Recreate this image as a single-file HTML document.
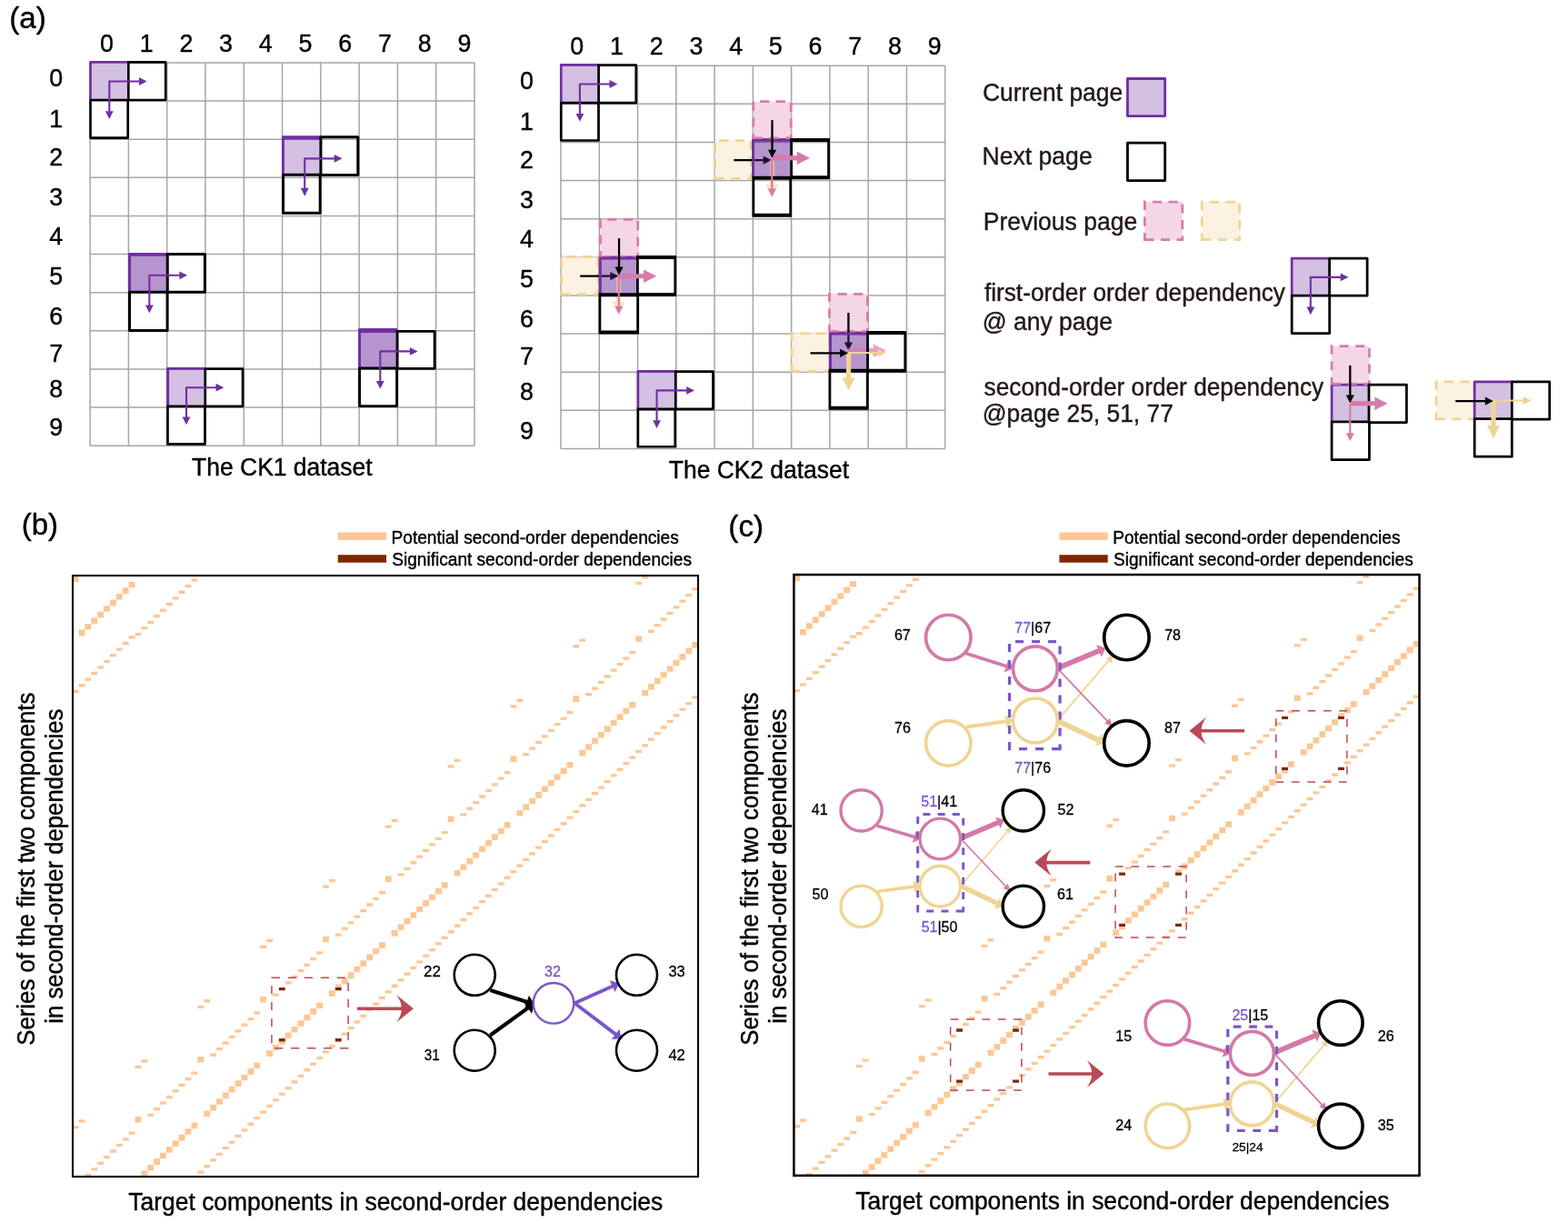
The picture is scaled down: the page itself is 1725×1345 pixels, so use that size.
<!DOCTYPE html>
<html lang="en">
<head>
<meta charset="utf-8">
<title>First-order and second-order dependencies in the CK1 and CK2 datasets</title>
<style>
html,body{margin:0;padding:0;background:#fff;}
body{width:1725px;height:1345px;overflow:hidden;}
svg{display:block;font-family:'Liberation Sans', sans-serif;}
</style>
</head>
<body>
<svg width="1725" height="1345" viewBox="0 0 1725 1345">
<rect width="1725" height="1345" fill="#fff"/>
<g id="panel-a">
<text transform="translate(10.19 30.5) scale(1.004 1)" font-size="33" text-anchor="start" fill="#000" stroke="#000" stroke-width="0.4" stroke-linejoin="round">(a)</text>
<path d="M99.1 69V490.2M141.39 69V490.2M183.68 69V490.2M225.97 69V490.2M268.26 69V490.2M310.55 69V490.2M352.84 69V490.2M395.13 69V490.2M437.42 69V490.2M479.71 69V490.2M522 69V490.2M99.1 69H522M99.1 111.12H522M99.1 153.24H522M99.1 195.36H522M99.1 237.48H522M99.1 279.6H522M99.1 321.72H522M99.1 363.84H522M99.1 405.96H522M99.1 448.08H522M99.1 490.2H522" fill="none" stroke="#a6a6a6" stroke-width="1.5"/>
<text transform="translate(117.4 56.8) scale(0.957 1)" font-size="28" text-anchor="middle" fill="#000" stroke="#000" stroke-width="0.4" stroke-linejoin="round">0</text>
<text transform="translate(161.12 56.8) scale(0.957 1)" font-size="28" text-anchor="middle" fill="#000" stroke="#000" stroke-width="0.4" stroke-linejoin="round">1</text>
<text transform="translate(204.84 56.8) scale(0.957 1)" font-size="28" text-anchor="middle" fill="#000" stroke="#000" stroke-width="0.4" stroke-linejoin="round">2</text>
<text transform="translate(248.56 56.8) scale(0.957 1)" font-size="28" text-anchor="middle" fill="#000" stroke="#000" stroke-width="0.4" stroke-linejoin="round">3</text>
<text transform="translate(292.28 56.8) scale(0.957 1)" font-size="28" text-anchor="middle" fill="#000" stroke="#000" stroke-width="0.4" stroke-linejoin="round">4</text>
<text transform="translate(336 56.8) scale(0.957 1)" font-size="28" text-anchor="middle" fill="#000" stroke="#000" stroke-width="0.4" stroke-linejoin="round">5</text>
<text transform="translate(379.72 56.8) scale(0.957 1)" font-size="28" text-anchor="middle" fill="#000" stroke="#000" stroke-width="0.4" stroke-linejoin="round">6</text>
<text transform="translate(423.44 56.8) scale(0.957 1)" font-size="28" text-anchor="middle" fill="#000" stroke="#000" stroke-width="0.4" stroke-linejoin="round">7</text>
<text transform="translate(467.16 56.8) scale(0.957 1)" font-size="28" text-anchor="middle" fill="#000" stroke="#000" stroke-width="0.4" stroke-linejoin="round">8</text>
<text transform="translate(510.88 56.8) scale(0.957 1)" font-size="28" text-anchor="middle" fill="#000" stroke="#000" stroke-width="0.4" stroke-linejoin="round">9</text>
<text transform="translate(61.6 95.1) scale(0.957 1)" font-size="28" text-anchor="middle" fill="#000" stroke="#000" stroke-width="0.4" stroke-linejoin="round">0</text>
<text transform="translate(61.6 140) scale(0.957 1)" font-size="28" text-anchor="middle" fill="#000" stroke="#000" stroke-width="0.4" stroke-linejoin="round">1</text>
<text transform="translate(61.6 182) scale(0.957 1)" font-size="28" text-anchor="middle" fill="#000" stroke="#000" stroke-width="0.4" stroke-linejoin="round">2</text>
<text transform="translate(61.6 226.3) scale(0.957 1)" font-size="28" text-anchor="middle" fill="#000" stroke="#000" stroke-width="0.4" stroke-linejoin="round">3</text>
<text transform="translate(61.6 269.4) scale(0.957 1)" font-size="28" text-anchor="middle" fill="#000" stroke="#000" stroke-width="0.4" stroke-linejoin="round">4</text>
<text transform="translate(61.6 312.7) scale(0.957 1)" font-size="28" text-anchor="middle" fill="#000" stroke="#000" stroke-width="0.4" stroke-linejoin="round">5</text>
<text transform="translate(61.6 357.3) scale(0.957 1)" font-size="28" text-anchor="middle" fill="#000" stroke="#000" stroke-width="0.4" stroke-linejoin="round">6</text>
<text transform="translate(61.6 397.8) scale(0.957 1)" font-size="28" text-anchor="middle" fill="#000" stroke="#000" stroke-width="0.4" stroke-linejoin="round">7</text>
<text transform="translate(61.6 436.6) scale(0.957 1)" font-size="28" text-anchor="middle" fill="#000" stroke="#000" stroke-width="0.4" stroke-linejoin="round">8</text>
<text transform="translate(61.6 479.4) scale(0.957 1)" font-size="28" text-anchor="middle" fill="#000" stroke="#000" stroke-width="0.4" stroke-linejoin="round">9</text>
<text transform="translate(211.1 523.3) scale(1 1.035)" font-size="26.47" text-anchor="start" fill="#000" stroke="#000" stroke-width="0.4" stroke-linejoin="round">The CK1 dataset</text>
<rect x="98.7" y="67.4" width="42.6" height="42.6" fill="#7030a0" fill-opacity="0.3"/><path d="M98.2 110V68.1Q98.2 66.9 99.4 66.9H141.3V69.5H100.8V110z" fill="#7030a0"/><rect x="141.3" y="68.4" width="40.9" height="41.6" fill="none" stroke="#000" stroke-width="2.6" stroke-linejoin="round"/><rect x="99.5" y="110" width="41.2" height="41.6" fill="none" stroke="#000" stroke-width="2.6" stroke-linejoin="round"/><path d="M120.3 122.7V89.5H153.4" fill="none" stroke="#7030a0" stroke-width="2.1" stroke-linejoin="round"/><polygon points="161.7,89.5 152.9,85.1 152.9,93.9" fill="#7030a0"/><polygon points="120.3,131 115.9,122.2 124.7,122.2" fill="#7030a0"/>
<rect x="310.5" y="149.7" width="42.4" height="42.5" fill="#7030a0" fill-opacity="0.3"/><path d="M310 192.2V150.4Q310 149.2 311.2 149.2H352.9V153.6H312.9V192.2z" fill="#7030a0"/><rect x="352.9" y="150.7" width="40.9" height="41.9" fill="none" stroke="#000" stroke-width="3" stroke-linejoin="round"/><rect x="311.5" y="192.2" width="40.7" height="42" fill="none" stroke="#000" stroke-width="3" stroke-linejoin="round"/><path d="M335.2 207.35V174.35H368.2" fill="none" stroke="#7030a0" stroke-width="2.1" stroke-linejoin="round"/><polygon points="376.5,174.35 367.7,169.95 367.7,178.75" fill="#7030a0"/><polygon points="335.2,215.65 330.8,206.85 339.6,206.85" fill="#7030a0"/>
<rect x="141.5" y="278.4" width="42.75" height="42.9" fill="#7030a0" fill-opacity="0.51"/><path d="M141 321.3V279.1Q141 277.9 142.2 277.9H184.25V281.8H144.05V321.3z" fill="#7030a0"/><rect x="184.25" y="279.4" width="41.15" height="41.8" fill="none" stroke="#000" stroke-width="3" stroke-linejoin="round"/><rect x="142.5" y="321.3" width="41.6" height="42.1" fill="none" stroke="#000" stroke-width="3" stroke-linejoin="round"/><path d="M164.35 335.9V302.8H197.8" fill="none" stroke="#7030a0" stroke-width="2.1" stroke-linejoin="round"/><polygon points="206.1,302.8 197.3,298.4 197.3,307.2" fill="#7030a0"/><polygon points="164.35,344.2 159.95,335.4 168.75,335.4" fill="#7030a0"/>
<rect x="394.57" y="361.54" width="42.48" height="43.51" fill="#7030a0" fill-opacity="0.51"/><path d="M394.07 405.05V362.24Q394.07 361.04 395.27 361.04H437.05V365.94H397.02V405.05z" fill="#7030a0"/><rect x="437.05" y="364.35" width="41.1" height="41" fill="none" stroke="#000" stroke-width="2.9" stroke-linejoin="round"/><rect x="395.52" y="405.05" width="41.1" height="41.6" fill="none" stroke="#000" stroke-width="2.9" stroke-linejoin="round"/><path d="M418.3 419.4V386.4H451.4" fill="none" stroke="#7030a0" stroke-width="2.1" stroke-linejoin="round"/><polygon points="459.7,386.4 450.9,382 450.9,390.8" fill="#7030a0"/><polygon points="418.3,427.7 413.9,418.9 422.7,418.9" fill="#7030a0"/>
<rect x="183.6" y="404.57" width="42.15" height="42.38" fill="#7030a0" fill-opacity="0.3"/><path d="M183.1 446.95V405.27Q183.1 404.07 184.3 404.07H225.75V406.87H186.1V446.95z" fill="#7030a0"/><rect x="225.75" y="405.65" width="41.3" height="41.2" fill="none" stroke="#000" stroke-width="2.7" stroke-linejoin="round"/><rect x="184.45" y="446.95" width="41" height="41.5" fill="none" stroke="#000" stroke-width="2.7" stroke-linejoin="round"/><path d="M205 459V426.2H238" fill="none" stroke="#7030a0" stroke-width="2.1" stroke-linejoin="round"/><polygon points="246.3,426.2 237.5,421.8 237.5,430.6" fill="#7030a0"/><polygon points="205,467.3 200.6,458.5 209.4,458.5" fill="#7030a0"/>
<path d="M617 72.2V493.4M659.27 72.2V493.4M701.54 72.2V493.4M743.81 72.2V493.4M786.08 72.2V493.4M828.35 72.2V493.4M870.62 72.2V493.4M912.89 72.2V493.4M955.16 72.2V493.4M997.43 72.2V493.4M1039.7 72.2V493.4M617 72.2H1039.7M617 114.32H1039.7M617 156.44H1039.7M617 198.56H1039.7M617 240.68H1039.7M617 282.8H1039.7M617 324.92H1039.7M617 367.04H1039.7M617 409.16H1039.7M617 451.28H1039.7M617 493.4H1039.7" fill="none" stroke="#a6a6a6" stroke-width="1.5"/>
<text transform="translate(634.65 60) scale(0.957 1)" font-size="28" text-anchor="middle" fill="#000" stroke="#000" stroke-width="0.4" stroke-linejoin="round">0</text>
<text transform="translate(678.38 60) scale(0.957 1)" font-size="28" text-anchor="middle" fill="#000" stroke="#000" stroke-width="0.4" stroke-linejoin="round">1</text>
<text transform="translate(722.11 60) scale(0.957 1)" font-size="28" text-anchor="middle" fill="#000" stroke="#000" stroke-width="0.4" stroke-linejoin="round">2</text>
<text transform="translate(765.84 60) scale(0.957 1)" font-size="28" text-anchor="middle" fill="#000" stroke="#000" stroke-width="0.4" stroke-linejoin="round">3</text>
<text transform="translate(809.57 60) scale(0.957 1)" font-size="28" text-anchor="middle" fill="#000" stroke="#000" stroke-width="0.4" stroke-linejoin="round">4</text>
<text transform="translate(853.3 60) scale(0.957 1)" font-size="28" text-anchor="middle" fill="#000" stroke="#000" stroke-width="0.4" stroke-linejoin="round">5</text>
<text transform="translate(897.03 60) scale(0.957 1)" font-size="28" text-anchor="middle" fill="#000" stroke="#000" stroke-width="0.4" stroke-linejoin="round">6</text>
<text transform="translate(940.76 60) scale(0.957 1)" font-size="28" text-anchor="middle" fill="#000" stroke="#000" stroke-width="0.4" stroke-linejoin="round">7</text>
<text transform="translate(984.49 60) scale(0.957 1)" font-size="28" text-anchor="middle" fill="#000" stroke="#000" stroke-width="0.4" stroke-linejoin="round">8</text>
<text transform="translate(1028.22 60) scale(0.957 1)" font-size="28" text-anchor="middle" fill="#000" stroke="#000" stroke-width="0.4" stroke-linejoin="round">9</text>
<text transform="translate(579.5 98) scale(0.957 1)" font-size="28" text-anchor="middle" fill="#000" stroke="#000" stroke-width="0.4" stroke-linejoin="round">0</text>
<text transform="translate(579.5 143.1) scale(0.957 1)" font-size="28" text-anchor="middle" fill="#000" stroke="#000" stroke-width="0.4" stroke-linejoin="round">1</text>
<text transform="translate(579.5 185) scale(0.957 1)" font-size="28" text-anchor="middle" fill="#000" stroke="#000" stroke-width="0.4" stroke-linejoin="round">2</text>
<text transform="translate(579.5 229.2) scale(0.957 1)" font-size="28" text-anchor="middle" fill="#000" stroke="#000" stroke-width="0.4" stroke-linejoin="round">3</text>
<text transform="translate(579.5 272.3) scale(0.957 1)" font-size="28" text-anchor="middle" fill="#000" stroke="#000" stroke-width="0.4" stroke-linejoin="round">4</text>
<text transform="translate(579.5 315.7) scale(0.957 1)" font-size="28" text-anchor="middle" fill="#000" stroke="#000" stroke-width="0.4" stroke-linejoin="round">5</text>
<text transform="translate(579.5 360.3) scale(0.957 1)" font-size="28" text-anchor="middle" fill="#000" stroke="#000" stroke-width="0.4" stroke-linejoin="round">6</text>
<text transform="translate(579.5 400.5) scale(0.957 1)" font-size="28" text-anchor="middle" fill="#000" stroke="#000" stroke-width="0.4" stroke-linejoin="round">7</text>
<text transform="translate(579.5 440) scale(0.957 1)" font-size="28" text-anchor="middle" fill="#000" stroke="#000" stroke-width="0.4" stroke-linejoin="round">8</text>
<text transform="translate(579.5 482.5) scale(0.957 1)" font-size="28" text-anchor="middle" fill="#000" stroke="#000" stroke-width="0.4" stroke-linejoin="round">9</text>
<text transform="translate(735.81 526.3) scale(1 1.035)" font-size="26.43" text-anchor="start" fill="#000" stroke="#000" stroke-width="0.4" stroke-linejoin="round">The CK2 dataset</text>
<rect x="616.4" y="70.56" width="42.15" height="42.49" fill="#7030a0" fill-opacity="0.3"/><path d="M615.9 113.05V71.26Q615.9 70.06 617.1 70.06H658.55V72.76H618.6V113.05z" fill="#7030a0"/><rect x="658.55" y="71.55" width="41.2" height="41.5" fill="none" stroke="#000" stroke-width="2.7" stroke-linejoin="round"/><rect x="617.25" y="113.05" width="41.2" height="41.45" fill="none" stroke="#000" stroke-width="2.7" stroke-linejoin="round"/><path d="M637.9 125.55V92.5H671" fill="none" stroke="#7030a0" stroke-width="2.1" stroke-linejoin="round"/><polygon points="679.3,92.5 670.5,88.1 670.5,96.9" fill="#7030a0"/><polygon points="637.9,133.85 633.5,125.05 642.3,125.05" fill="#7030a0"/>
<rect x="701" y="407.5" width="42.25" height="42.35" fill="#7030a0" fill-opacity="0.3"/><path d="M700.5 449.85V408.2Q700.5 407 701.7 407H743.25V409.7H703.2V449.85z" fill="#7030a0"/><rect x="743.25" y="408.55" width="41.25" height="41.3" fill="none" stroke="#000" stroke-width="2.7" stroke-linejoin="round"/><rect x="701.85" y="449.85" width="40.9" height="41.4" fill="none" stroke="#000" stroke-width="2.7" stroke-linejoin="round"/><path d="M722.55 462.7V429.4H755.7" fill="none" stroke="#7030a0" stroke-width="2.1" stroke-linejoin="round"/><polygon points="764,429.4 755.2,425 755.2,433.8" fill="#7030a0"/><polygon points="722.55,471 718.15,462.2 726.95,462.2" fill="#7030a0"/>
<path d="M786.65 196.25H826.05V154.65H786.65z" fill="#fbf2e1"/><path d="M786.65 196.25H826.05V154.65H786.65z" fill="none" stroke="#f0d492" stroke-width="2.7" stroke-dasharray="10.2 7.4" stroke-dashoffset="0"/><path d="M828.75 151.95H870.15V111.65H828.75z" fill="#f4d6e6"/><rect x="827.7" y="152.4" width="42.9" height="42.7" fill="#7030a0" fill-opacity="0.3"/><path d="M827.2 195.1V153.1Q827.2 151.9 828.4 151.9H870.6V154.7H830V195.1z" fill="#7030a0"/><path d="M828.75 151.95H870.15V111.65H828.75z" fill="none" stroke="#d77ba8" stroke-width="2.7" stroke-dasharray="10.2 7.4" stroke-dashoffset="0"/><line x1="807.3" y1="176.05" x2="840.2" y2="176.05" stroke="#000" stroke-width="2.3"/><polygon points="848.6,176.05 839.7,180.65 839.7,171.45" fill="#000"/><rect x="827.7" y="153.5" width="42.9" height="41.6" fill="#7030a0" fill-opacity="0.3"/><path d="M827.2 195.1V154.2Q827.2 153 828.4 153H870.6V155.8H830V195.1z" fill="#7030a0"/><g opacity="0.62"><line x1="849.2" y1="174.5" x2="881" y2="174.5" stroke="#f0d492" stroke-width="2"/><polygon points="889.5,174.5 880.5,179 880.5,170" fill="#f0d492"/><line x1="849.6" y1="175.8" x2="849.6" y2="203.6" stroke="#f0d492" stroke-width="5.2"/><polygon points="849.6,217 842.5,203.1 856.7,203.1" fill="#f0d492"/></g><path fill-rule="evenodd" fill="#000" d="M870 151.9H912.15Q912.95 151.9 912.95 152.7V196.4Q912.95 197.2 912.15 197.2H870Q869.2 197.2 869.2 196.4V152.7Q869.2 151.9 870 151.9zM872 155.9V193.2H910.15V155.9z"/><path fill-rule="evenodd" fill="#000" d="M828.2 193.7H870.3Q871.1 193.7 871.1 194.5V238Q871.1 238.8 870.3 238.8H828.2Q827.4 238.8 827.4 238V194.5Q827.4 193.7 828.2 193.7zM830.2 197.7V234.8H868.3V197.7z"/><line x1="849.2" y1="173.8" x2="877.2" y2="173.8" stroke="#d77ba8" stroke-width="5.2"/><polygon points="891,173.8 876.7,181 876.7,166.6" fill="#d77ba8"/><line x1="849.2" y1="175.8" x2="849.2" y2="208" stroke="#d77ba8" stroke-width="2.2"/><polygon points="849.2,216.5 844.7,207.5 853.7,207.5" fill="#d77ba8"/><line x1="849.5" y1="132.1" x2="849.5" y2="165.2" stroke="#000" stroke-width="2.3"/><polygon points="849.5,173.6 844.9,164.7 854.1,164.7" fill="#000"/>
<path d="M617.75 323.65H657.75V282.45H617.75z" fill="#fbf2e1"/><path d="M617.75 323.65H657.75V282.45H617.75z" fill="none" stroke="#f0d492" stroke-width="2.7" stroke-dasharray="10.2 7.4" stroke-dashoffset="0"/><path d="M660.45 282.4H701.75V241.35H660.45z" fill="#f4d6e6"/><rect x="659.25" y="282" width="42.15" height="41.7" fill="#7030a0" fill-opacity="0.3"/><path d="M658.75 323.7V282.7Q658.75 281.5 659.95 281.5H701.4V284.3H661.55V323.7z" fill="#7030a0"/><path d="M660.45 282.4H701.75V241.35H660.45z" fill="none" stroke="#d77ba8" stroke-width="2.7" stroke-dasharray="10.2 7.4" stroke-dashoffset="0"/><line x1="638.2" y1="303.6" x2="671.9" y2="303.6" stroke="#000" stroke-width="2.3"/><polygon points="680.3,303.6 671.4,308.2 671.4,299" fill="#000"/><rect x="659.25" y="283.1" width="42.15" height="40.6" fill="#7030a0" fill-opacity="0.3"/><path d="M658.75 323.7V283.8Q658.75 282.6 659.95 282.6H701.4V285.4H661.55V323.7z" fill="#7030a0"/><g opacity="0.62"><line x1="680.3" y1="304.3" x2="712" y2="304.3" stroke="#f0d492" stroke-width="2"/><polygon points="720.5,304.3 711.5,308.8 711.5,299.8" fill="#f0d492"/><line x1="680.6" y1="305" x2="680.6" y2="332.1" stroke="#f0d492" stroke-width="5.2"/><polygon points="680.6,345.5 673.5,331.6 687.7,331.6" fill="#f0d492"/></g><path fill-rule="evenodd" fill="#000" d="M700.8 281.1H743.4Q744.2 281.1 744.2 281.9V325.1Q744.2 325.9 743.4 325.9H700.8Q700 325.9 700 325.1V281.9Q700 281.1 700.8 281.1zM702.8 285.1V321.9H741.4V285.1z"/><path fill-rule="evenodd" fill="#000" d="M659.3 322.3H702.3Q703.1 322.3 703.1 323.1V366.6Q703.1 367.4 702.3 367.4H659.3Q658.5 367.4 658.5 366.6V323.1Q658.5 322.3 659.3 322.3zM661.3 326.3V363.4H700.3V326.3z"/><line x1="680.3" y1="303.8" x2="708.5" y2="303.8" stroke="#d77ba8" stroke-width="5.2"/><polygon points="722.3,303.8 708,311 708,296.6" fill="#d77ba8"/><line x1="680.8" y1="305" x2="680.8" y2="337.3" stroke="#d77ba8" stroke-width="2.2"/><polygon points="680.8,345.8 676.3,336.8 685.3,336.8" fill="#d77ba8"/><line x1="681.05" y1="262.1" x2="681.05" y2="294.1" stroke="#000" stroke-width="2.3"/><polygon points="681.05,302.5 676.45,293.6 685.65,293.6" fill="#000"/>
<path d="M871.15 408.45H912.75V366.55H871.15z" fill="#fbf2e1"/><path d="M871.15 408.45H912.75V366.55H871.15z" fill="none" stroke="#f0d492" stroke-width="2.7" stroke-dasharray="10.2 7.4" stroke-dashoffset="0"/><path d="M912.45 364.45H954.35V323.35H912.45z" fill="#f4d6e6"/><rect x="912.4" y="365.1" width="42.1" height="42" fill="#7030a0" fill-opacity="0.3"/><path d="M911.9 407.1V365.8Q911.9 364.6 913.1 364.6H954.5V367.4H914.7V407.1z" fill="#7030a0"/><path d="M912.45 364.45H954.35V323.35H912.45z" fill="none" stroke="#d77ba8" stroke-width="2.7" stroke-dasharray="10.2 7.4" stroke-dashoffset="0"/><line x1="933.4" y1="344" x2="933.4" y2="376.9" stroke="#000" stroke-width="2.3"/><polygon points="933.4,385.3 928.8,376.4 938,376.4" fill="#000"/><rect x="912.4" y="366.2" width="42.1" height="40.9" fill="#7030a0" fill-opacity="0.3"/><path d="M911.9 407.1V366.9Q911.9 365.7 913.1 365.7H954.5V368.5H914.7V407.1z" fill="#7030a0"/><g opacity="0.7"><line x1="933" y1="385.6" x2="961.1" y2="385.6" stroke="#d77ba8" stroke-width="5.2"/><polygon points="974.9,385.6 960.6,392.8 960.6,378.4" fill="#d77ba8"/><line x1="933.4" y1="388" x2="933.4" y2="418.5" stroke="#d77ba8" stroke-width="2.2"/><polygon points="933.4,427 928.9,418 937.9,418" fill="#d77ba8"/></g><path fill-rule="evenodd" fill="#000" d="M953.9 364.1H996.4Q997.2 364.1 997.2 364.9V409Q997.2 409.8 996.4 409.8H953.9Q953.1 409.8 953.1 409V364.9Q953.1 364.1 953.9 364.1zM955.9 368.1V405.8H994.4V368.1z"/><path fill-rule="evenodd" fill="#000" d="M912.3 405.7H954.9Q955.7 405.7 955.7 406.5V449.9Q955.7 450.7 954.9 450.7H912.3Q911.5 450.7 911.5 449.9V406.5Q911.5 405.7 912.3 405.7zM914.3 409.7V446.7H952.9V409.7z"/><line x1="933" y1="388.1" x2="966.4" y2="388.1" stroke="#f0d492" stroke-width="2"/><polygon points="974.9,388.1 965.9,392.6 965.9,383.6" fill="#f0d492"/><line x1="933.6" y1="388.1" x2="933.6" y2="415.9" stroke="#f0d492" stroke-width="5.2"/><polygon points="933.6,429.3 926.5,415.4 940.7,415.4" fill="#f0d492"/><line x1="891.4" y1="388.3" x2="924.6" y2="388.3" stroke="#000" stroke-width="2.3"/><polygon points="933,388.3 924.1,392.9 924.1,383.7" fill="#000"/>
<text transform="translate(1080.88 110.8) scale(1 1.035)" font-size="26.46" text-anchor="start" fill="#231815" stroke="#231815" stroke-width="0.4" stroke-linejoin="round">Current page</text>
<text transform="translate(1080.51 181.3) scale(1 1.035)" font-size="26.6" text-anchor="start" fill="#231815" stroke="#231815" stroke-width="0.4" stroke-linejoin="round">Next page</text>
<text transform="translate(1081.71 253) scale(1 1.035)" font-size="26.52" text-anchor="start" fill="#231815" stroke="#231815" stroke-width="0.4" stroke-linejoin="round">Previous page</text>
<text transform="translate(1082.88 330.5) scale(1 1.035)" font-size="26.25" text-anchor="start" fill="#231815" stroke="#231815" stroke-width="0.4" stroke-linejoin="round">first-order order dependency</text>
<text transform="translate(1080.8 363.1) scale(1 1.035)" font-size="26.47" text-anchor="start" fill="#231815" stroke="#231815" stroke-width="0.4" stroke-linejoin="round">@ any page</text>
<text transform="translate(1082.55 434.6) scale(1 1.035)" font-size="26.27" text-anchor="start" fill="#231815" stroke="#231815" stroke-width="0.4" stroke-linejoin="round">second-order order dependency</text>
<text transform="translate(1080.81 463.9) scale(1 1.035)" font-size="26.38" text-anchor="start" fill="#231815" stroke="#231815" stroke-width="0.4" stroke-linejoin="round">@page 25, 51, 77</text>
<rect x="1240.45" y="86.5" width="41.22" height="41.1" fill="#d4c0e3" stroke="#7030a0" stroke-width="2.8" stroke-linejoin="round"/>
<rect x="1240.45" y="157.1" width="41.22" height="41.5" fill="#fff" stroke="#000" stroke-width="2.8" stroke-linejoin="round"/>
<path d="M1259.35 263.52H1300.83V222.07H1259.35z" fill="#f4d6e6"/><path d="M1259.35 263.52H1300.83V222.07H1259.35z" fill="none" stroke="#d77ba8" stroke-width="2.75" stroke-dasharray="10.2 7.4" stroke-dashoffset="0"/>
<path d="M1322.28 263.52H1363.69V222.07H1322.28z" fill="#fbf2e1"/><path d="M1322.28 263.52H1363.69V222.07H1322.28z" fill="none" stroke="#f0d492" stroke-width="2.75" stroke-dasharray="10.2 7.4" stroke-dashoffset="0"/>
<rect x="1420.3" y="283.3" width="42.28" height="41.77" fill="#7030a0" fill-opacity="0.3"/><path d="M1419.8 325.07V284Q1419.8 282.8 1421 282.8H1462.58V285.55H1422.55V325.07z" fill="#7030a0"/><rect x="1462.58" y="284.18" width="41.55" height="40.95" fill="none" stroke="#000" stroke-width="2.75" stroke-linejoin="round"/><rect x="1421.17" y="325.07" width="41.5" height="41.55" fill="none" stroke="#000" stroke-width="2.75" stroke-linejoin="round"/><path d="M1441.8 338V304.85H1475.2" fill="none" stroke="#7030a0" stroke-width="2.1" stroke-linejoin="round"/><polygon points="1483.5,304.85 1474.7,300.45 1474.7,309.25" fill="#7030a0"/><polygon points="1441.8,346.3 1437.4,337.5 1446.2,337.5" fill="#7030a0"/>
<path d="M1465.05 422.15H1506.45V380.65H1465.05z" fill="#f4d6e6"/><rect x="1464.2" y="422.2" width="41.77" height="41.68" fill="#7030a0" fill-opacity="0.3"/><path d="M1463.7 463.88V422.9Q1463.7 421.7 1464.9 421.7H1505.97V424.45H1466.45V463.88z" fill="#7030a0"/><path d="M1465.05 422.15H1506.45V380.65H1465.05z" fill="none" stroke="#d77ba8" stroke-width="2.7" stroke-dasharray="10.2 7.4" stroke-dashoffset="0"/><rect x="1505.97" y="423.07" width="41.45" height="41.45" fill="none" stroke="#000" stroke-width="2.75" stroke-linejoin="round"/><rect x="1465.08" y="463.88" width="41.35" height="41.75" fill="none" stroke="#000" stroke-width="2.75" stroke-linejoin="round"/><line x1="1485.7" y1="443.7" x2="1512.8" y2="443.7" stroke="#d77ba8" stroke-width="5.2"/><polygon points="1526.6,443.7 1512.3,450.9 1512.3,436.5" fill="#d77ba8"/><line x1="1485.3" y1="444.3" x2="1485.3" y2="476.8" stroke="#d77ba8" stroke-width="2.2"/><polygon points="1485.3,485.3 1480.8,476.3 1489.8,476.3" fill="#d77ba8"/><line x1="1485.3" y1="401.9" x2="1485.3" y2="434.9" stroke="#000" stroke-width="2.3"/><polygon points="1485.3,443.3 1480.7,434.4 1489.9,434.4" fill="#000"/>
<path d="M1579.95 460.85H1621.85V419.85H1579.95z" fill="#fbf2e1"/><path d="M1579.95 460.85H1621.85V419.85H1579.95z" fill="none" stroke="#f0d492" stroke-width="2.7" stroke-dasharray="10.2 7.4" stroke-dashoffset="0"/><rect x="1621.3" y="419" width="41.98" height="41.68" fill="#7030a0" fill-opacity="0.3"/><path d="M1620.8 460.68V419.7Q1620.8 418.5 1622 418.5H1663.28V421.25H1623.55V460.68z" fill="#7030a0"/><rect x="1663.28" y="419.88" width="41.45" height="41.25" fill="none" stroke="#000" stroke-width="2.75" stroke-linejoin="round"/><rect x="1622.17" y="460.68" width="41.15" height="41.55" fill="none" stroke="#000" stroke-width="2.75" stroke-linejoin="round"/><line x1="1643" y1="440.5" x2="1676" y2="440.5" stroke="#f0d492" stroke-width="2"/><polygon points="1684.5,440.5 1675.5,445 1675.5,436" fill="#f0d492"/><line x1="1643" y1="440.5" x2="1643" y2="468.5" stroke="#f0d492" stroke-width="5.2"/><polygon points="1643,481.9 1635.9,468 1650.1,468" fill="#f0d492"/><line x1="1601.2" y1="441.1" x2="1634.3" y2="441.1" stroke="#000" stroke-width="2.3"/><polygon points="1642.7,441.1 1633.8,445.7 1633.8,436.5" fill="#000"/>
</g>
<g id="panel-b">
<text transform="translate(23.68 588) scale(0.998 1)" font-size="33" text-anchor="start" fill="#000" stroke="#000" stroke-width="0.4" stroke-linejoin="round">(b)</text>
<rect x="371.7" y="585.4" width="53.3" height="8.5" fill="#fcc794"/><rect x="371.7" y="610.2" width="53.3" height="8.5" fill="#7f2704"/><text transform="translate(430.58 598.1) scale(1 1.035)" font-size="19.1" text-anchor="start" fill="#000" stroke="#000" stroke-width="0.4" stroke-linejoin="round">Potential second-order dependencies</text><text transform="translate(431.3 621.6) scale(1 1.035)" font-size="19.08" text-anchor="start" fill="#000" stroke="#000" stroke-width="0.4" stroke-linejoin="round">Significant second-order dependencies</text>
<path d="M93.43 1290.79H100.31V1294.1H93.43zM155.38 1287.49H162.27V1294.1H155.38zM217.34 1287.49H224.22V1290.79H217.34zM100.31 1284.18H107.2V1287.49H100.31zM162.27 1280.88H169.15V1287.49H162.27zM224.22 1280.88H231.11V1284.18H224.22zM107.2 1277.57H114.08V1280.88H107.2zM169.15 1274.27H176.04V1280.88H169.15zM231.11 1274.27H237.99V1277.57H231.11zM114.08 1270.96H120.96V1274.27H114.08zM176.04 1267.66H182.92V1274.27H176.04zM237.99 1267.66H244.88V1270.96H237.99zM120.96 1264.36H127.85V1267.66H120.96zM182.92 1261.05H189.8V1267.66H182.92zM244.88 1261.05H251.76V1264.36H244.88zM127.85 1257.74H134.73V1261.05H127.85zM189.8 1254.44H196.69V1261.05H189.8zM251.76 1254.44H258.64V1257.74H251.76zM134.73 1251.13H141.62V1254.44H134.73zM196.69 1247.83H203.57V1254.44H196.69zM258.64 1247.83H265.53V1251.13H258.64zM141.62 1244.52H148.5V1247.83H141.62zM203.57 1241.22H210.46V1247.83H203.57zM265.53 1241.22H272.41V1244.52H265.53zM79.66 1237.91H86.54V1241.22H79.66zM210.46 1234.61H217.34V1241.22H210.46zM272.41 1234.61H279.3V1237.91H272.41zM86.54 1231.3H93.43V1234.61H86.54zM148.5 1228H155.38V1234.61H148.5zM279.3 1228H286.18V1231.3H279.3zM162.27 1224.69H169.15V1228H162.27zM224.22 1221.39H231.11V1228H224.22zM286.18 1221.39H293.06V1224.69H286.18zM169.15 1218.08H176.04V1221.39H169.15zM231.11 1214.78H237.99V1221.39H231.11zM293.06 1214.78H299.95V1218.08H293.06zM176.04 1211.47H182.92V1214.78H176.04zM237.99 1208.17H244.88V1214.78H237.99zM299.95 1208.17H306.83V1211.47H299.95zM182.92 1204.87H189.8V1208.17H182.92zM244.88 1201.56H251.76V1208.17H244.88zM306.83 1201.56H313.72V1204.87H306.83zM189.8 1198.25H196.69V1201.56H189.8zM251.76 1194.95H258.64V1201.56H251.76zM313.72 1194.95H320.6V1198.25H313.72zM196.69 1191.64H203.57V1194.95H196.69zM258.64 1188.34H265.53V1194.95H258.64zM320.6 1188.34H327.48V1191.64H320.6zM203.57 1185.03H210.46V1188.34H203.57zM265.53 1181.73H272.41V1188.34H265.53zM327.48 1181.73H334.37V1185.03H327.48zM210.46 1178.42H217.34V1181.73H210.46zM272.41 1175.12H279.3V1181.73H272.41zM334.37 1175.12H341.25V1178.42H334.37zM148.5 1171.81H155.38V1175.12H148.5zM279.3 1168.51H286.18V1175.12H279.3zM341.25 1168.51H348.14V1171.81H341.25zM155.38 1165.2H162.27V1168.51H155.38zM217.34 1161.9H224.22V1168.51H217.34zM348.14 1161.9H355.02V1165.2H348.14zM231.11 1158.59H237.99V1161.9H231.11zM293.06 1155.29H299.95V1161.9H293.06zM355.02 1155.29H361.9V1158.59H355.02zM237.99 1151.98H244.88V1155.29H237.99zM299.95 1148.68H306.83V1155.29H299.95zM361.9 1148.68H368.79V1151.98H361.9zM244.88 1145.38H251.76V1148.68H244.88zM306.83 1145.38H313.72V1148.68H306.83zM251.76 1138.76H258.64V1142.07H251.76zM313.72 1135.46H320.6V1142.07H313.72zM375.67 1135.46H382.56V1138.76H375.67zM258.64 1132.15H265.53V1135.46H258.64zM320.6 1128.85H327.48V1135.46H320.6zM382.56 1128.85H389.44V1132.15H382.56zM265.53 1125.54H272.41V1128.85H265.53zM327.48 1122.24H334.37V1128.85H327.48zM389.44 1122.24H396.32V1125.54H389.44zM272.41 1118.93H279.3V1122.24H272.41zM334.37 1115.63H341.25V1122.24H334.37zM396.32 1115.63H403.21V1118.93H396.32zM279.3 1112.32H286.18V1115.63H279.3zM341.25 1109.02H348.14V1115.63H341.25zM403.21 1109.02H410.09V1112.32H403.21zM217.34 1105.71H224.22V1109.02H217.34zM348.14 1102.41H355.02V1109.02H348.14zM410.09 1102.41H416.98V1105.71H410.09zM224.22 1099.11H231.11V1102.41H224.22zM286.18 1095.8H293.06V1102.41H286.18zM416.98 1095.8H423.86V1099.11H416.98zM299.95 1092.49H306.83V1095.8H299.95zM361.9 1089.19H368.79V1095.8H361.9zM423.86 1089.19H430.74V1092.49H423.86zM368.79 1082.58H375.67V1085.88H368.79zM430.74 1082.58H437.63V1085.88H430.74zM313.72 1079.27H320.6V1082.58H313.72zM375.67 1075.97H382.56V1082.58H375.67zM437.63 1075.97H444.51V1079.27H437.63zM320.6 1072.66H327.48V1075.97H320.6zM382.56 1069.36H389.44V1075.97H382.56zM444.51 1069.36H451.4V1072.66H444.51zM327.48 1066.05H334.37V1069.36H327.48zM389.44 1062.75H396.32V1069.36H389.44zM451.4 1062.75H458.28V1066.05H451.4zM334.37 1059.44H341.25V1062.75H334.37zM396.32 1056.14H403.21V1062.75H396.32zM458.28 1056.14H465.16V1059.44H458.28zM341.25 1052.83H348.14V1056.14H341.25zM403.21 1049.53H410.09V1056.14H403.21zM465.16 1049.53H472.05V1052.83H465.16zM348.14 1046.22H355.02V1049.53H348.14zM410.09 1042.92H416.98V1049.53H410.09zM472.05 1042.92H478.93V1046.22H472.05zM286.18 1039.61H293.06V1042.92H286.18zM416.98 1036.31H423.86V1042.92H416.98zM478.93 1036.31H485.82V1039.61H478.93zM293.06 1033H299.95V1036.31H293.06zM355.02 1029.7H361.9V1036.31H355.02zM485.82 1029.7H492.7V1033H485.82zM368.79 1026.39H375.67V1029.7H368.79zM430.74 1023.09H437.63V1029.7H430.74zM492.7 1023.09H499.58V1026.39H492.7zM375.67 1019.78H382.56V1023.09H375.67zM437.63 1016.48H444.51V1023.09H437.63zM499.58 1016.48H506.47V1019.78H499.58zM382.56 1013.17H389.44V1016.48H382.56zM444.51 1009.87H451.4V1016.48H444.51zM506.47 1009.87H513.35V1013.17H506.47zM389.44 1006.56H396.32V1009.87H389.44zM451.4 1003.26H458.28V1009.87H451.4zM513.35 1003.26H520.24V1006.56H513.35zM396.32 999.95H403.21V1003.26H396.32zM458.28 996.65H465.16V1003.26H458.28zM520.24 996.65H527.12V999.95H520.24zM403.21 993.34H410.09V996.65H403.21zM465.16 990.04H472.05V996.65H465.16zM527.12 990.04H534V993.34H527.12zM410.09 986.73H416.98V990.04H410.09zM472.05 983.43H478.93V990.04H472.05zM534 983.43H540.89V986.73H534zM416.98 980.12H423.86V983.43H416.98zM478.93 976.82H485.82V983.43H478.93zM540.89 976.82H547.77V980.12H540.89zM355.02 973.51H361.9V976.82H355.02zM485.82 970.21H492.7V976.82H485.82zM547.77 970.21H554.66V973.51H547.77zM361.9 966.9H368.79V970.21H361.9zM423.86 963.6H430.74V970.21H423.86zM554.66 963.6H561.54V966.9H554.66zM437.63 960.29H444.51V963.6H437.63zM499.58 956.99H506.47V963.6H499.58zM561.54 956.99H568.42V960.29H561.54zM444.51 953.68H451.4V956.99H444.51zM506.47 950.38H513.35V956.99H506.47zM568.42 950.38H575.31V953.68H568.42zM451.4 947.07H458.28V950.38H451.4zM513.35 943.77H520.24V950.38H513.35zM575.31 943.77H582.19V947.07H575.31zM458.28 940.46H465.16V943.77H458.28zM520.24 937.16H527.12V943.77H520.24zM582.19 937.16H589.08V940.46H582.19zM465.16 933.85H472.05V937.16H465.16zM527.12 930.55H534V937.16H527.12zM589.08 930.55H595.96V933.85H589.08zM472.05 927.24H478.93V930.55H472.05zM534 923.94H540.89V930.55H534zM595.96 923.94H602.84V927.24H595.96zM478.93 920.63H485.82V923.94H478.93zM540.89 917.33H547.77V923.94H540.89zM602.84 917.33H609.73V920.63H602.84zM485.82 914.02H492.7V917.33H485.82zM547.77 910.72H554.66V917.33H547.77zM609.73 910.72H616.61V914.02H609.73zM423.86 907.41H430.74V910.72H423.86zM554.66 904.11H561.54V910.72H554.66zM616.61 904.11H623.5V907.41H616.61zM430.74 900.8H437.63V904.11H430.74zM492.7 897.5H499.58V904.11H492.7zM623.5 897.5H630.38V900.8H623.5zM506.47 894.19H513.35V897.5H506.47zM568.42 890.89H575.31V897.5H568.42zM630.38 890.89H637.26V894.19H630.38zM513.35 887.58H520.24V890.89H513.35zM575.31 884.28H582.19V890.89H575.31zM637.26 884.28H644.15V887.58H637.26zM520.24 880.97H527.12V884.28H520.24zM582.19 877.67H589.08V884.28H582.19zM644.15 877.67H651.03V880.97H644.15zM527.12 874.36H534V877.67H527.12zM589.08 871.06H595.96V877.67H589.08zM651.03 871.06H657.92V874.36H651.03zM534 867.75H540.89V871.06H534zM595.96 864.45H602.84V871.06H595.96zM657.92 864.45H664.8V867.75H657.92zM540.89 861.14H547.77V864.45H540.89zM602.84 857.84H609.73V864.45H602.84zM664.8 857.84H671.68V861.14H664.8zM547.77 854.53H554.66V857.84H547.77zM609.73 851.23H616.61V857.84H609.73zM671.68 851.23H678.57V854.53H671.68zM554.66 847.92H561.54V851.23H554.66zM616.61 844.62H623.5V851.23H616.61zM678.57 844.62H685.45V847.92H678.57zM492.7 841.31H499.58V844.62H492.7zM623.5 838.01H630.38V844.62H623.5zM685.45 838.01H692.34V841.31H685.45zM499.58 834.7H506.47V838.01H499.58zM561.54 831.4H568.42V838.01H561.54zM692.34 831.4H699.22V834.7H692.34zM575.31 828.09H582.19V831.4H575.31zM637.26 824.79H644.15V831.4H637.26zM699.22 824.79H706.1V828.09H699.22zM582.19 821.48H589.08V824.79H582.19zM644.15 818.18H651.03V824.79H644.15zM706.1 818.18H712.99V821.48H706.1zM589.08 814.87H595.96V818.18H589.08zM651.03 811.57H657.92V818.18H651.03zM712.99 811.57H719.87V814.87H712.99zM595.96 808.26H602.84V811.57H595.96zM657.92 804.96H664.8V811.57H657.92zM719.87 804.96H726.76V808.26H719.87zM602.84 801.65H609.73V804.96H602.84zM664.8 798.35H671.68V804.96H664.8zM726.76 798.35H733.64V801.65H726.76zM609.73 795.04H616.61V798.35H609.73zM671.68 791.74H678.57V798.35H671.68zM733.64 791.74H740.52V795.04H733.64zM616.61 788.43H623.5V791.74H616.61zM678.57 785.13H685.45V791.74H678.57zM740.52 785.13H747.41V788.43H740.52zM623.5 781.82H630.38V785.13H623.5zM685.45 778.52H692.34V785.13H685.45zM747.41 778.52H754.29V781.82H747.41zM561.54 775.21H568.42V778.52H561.54zM692.34 771.91H699.22V778.52H692.34zM754.29 771.91H761.18V775.21H754.29zM568.42 768.6H575.31V771.91H568.42zM630.38 765.3H637.26V771.91H630.38zM761.18 765.3H768.06V768.6H761.18zM644.15 761.99H651.03V765.3H644.15zM706.1 758.69H712.99V765.3H706.1zM79.66 758.69H86.54V761.99H79.66zM651.03 755.38H657.92V758.69H651.03zM712.99 752.08H719.87V758.69H712.99zM86.54 752.08H93.43V755.38H86.54zM657.92 748.77H664.8V752.08H657.92zM719.87 745.47H726.76V752.08H719.87zM93.43 745.47H100.31V748.77H93.43zM664.8 742.16H671.68V745.47H664.8zM726.76 738.86H733.64V745.47H726.76zM100.31 738.86H107.2V742.16H100.31zM671.68 735.55H678.57V738.86H671.68zM733.64 732.25H740.52V738.86H733.64zM107.2 732.25H114.08V735.55H107.2zM678.57 728.94H685.45V732.25H678.57zM740.52 725.64H747.41V732.25H740.52zM114.08 725.64H120.96V728.94H114.08zM685.45 722.33H692.34V725.64H685.45zM747.41 719.03H754.29V725.64H747.41zM120.96 719.03H127.85V722.33H120.96zM692.34 715.72H699.22V719.03H692.34zM754.29 712.42H761.18V719.03H754.29zM127.85 712.42H134.73V715.72H127.85zM630.38 709.11H637.26V712.42H630.38zM761.18 705.81H768.06V712.42H761.18zM134.73 705.81H141.62V709.11H134.73zM637.26 702.5H644.15V705.81H637.26zM699.22 699.2H706.1V705.81H699.22zM141.62 699.2H148.5V702.5H141.62zM86.54 692.59H93.43V699.2H86.54zM148.5 695.89H155.38V699.2H148.5zM712.99 692.59H719.87V695.89H712.99zM93.43 685.98H100.31V692.59H93.43zM155.38 689.28H162.27V692.59H155.38zM719.87 685.98H726.76V689.28H719.87zM100.31 679.37H107.2V685.98H100.31zM162.27 682.67H169.15V685.98H162.27zM726.76 679.37H733.64V682.67H726.76zM107.2 672.76H114.08V679.37H107.2zM169.15 676.06H176.04V679.37H169.15zM733.64 672.76H740.52V676.06H733.64zM114.08 666.15H120.96V672.76H114.08zM176.04 669.45H182.92V672.76H176.04zM740.52 666.15H747.41V669.45H740.52zM120.96 659.54H127.85V666.15H120.96zM182.92 662.84H189.8V666.15H182.92zM747.41 659.54H754.29V662.84H747.41zM127.85 652.93H134.73V659.54H127.85zM189.8 656.23H196.69V659.54H189.8zM754.29 652.93H761.18V656.23H754.29zM134.73 646.32H141.62V652.93H134.73zM196.69 649.62H203.57V652.93H196.69zM761.18 646.32H768.06V649.62H761.18zM141.62 639.71H148.5V646.32H141.62zM203.57 643.01H210.46V646.32H203.57zM699.22 639.71H706.1V643.01H699.22zM79.66 633.1H86.54V639.71H79.66zM210.46 636.4H217.34V639.71H210.46zM706.1 633.1H712.99V636.4H706.1z" fill="#fcc794"/><path d="M306.83 1142.07H313.72V1145.38H306.83zM368.79 1142.07H375.67V1145.38H368.79zM306.83 1085.88H313.72V1089.19H306.83zM368.79 1085.88H375.67V1089.19H368.79z" fill="#7f2704"/>
<rect x="80" y="633" width="688" height="661" fill="none" stroke="#000" stroke-width="2.1"/>
<text transform="translate(37.8 1149.76) rotate(-90) scale(1 1.09)" font-size="25.78" text-anchor="start" fill="#000" stroke="#000" stroke-width="0.4" stroke-linejoin="round">Series of the first two components</text><text transform="translate(68.9 1125.74) rotate(-90) scale(1 1.04)" font-size="25.74" text-anchor="start" fill="#000" stroke="#000" stroke-width="0.4" stroke-linejoin="round">in second-order dependencies</text>
<text transform="translate(141.3 1330.5) scale(1 1.035)" font-size="26.45" text-anchor="start" fill="#000" stroke="#000" stroke-width="0.4" stroke-linejoin="round">Target components in second-order dependencies</text>
<path d="M298.9 1075.3H383.1V1152.7H298.9z" fill="none" stroke="#b94a55" stroke-width="1.5" stroke-dasharray="9.2 8.75"/>
<line x1="393" y1="1109.25" x2="442.3" y2="1109.25" stroke="#b94a55" stroke-width="3.6"/><path d="M454.9 1109.25L436.3 1094.25Q442.8 1104 441.3 1109.25Q442.8 1114.5 436.3 1124.25z" fill="#b94a55"/>
<line x1="539.4" y1="1089" x2="580.04" y2="1102.06" stroke="#000" stroke-width="4.1"/><polygon points="588.13,1104.66 577.23,1109.14 581.88,1094.67" fill="#000"/>
<line x1="539.4" y1="1138.5" x2="581.03" y2="1108.31" stroke="#000" stroke-width="4.1"/><polygon points="587.91,1103.32 585.09,1114.76 576.17,1102.45" fill="#000"/>
<line x1="632.2" y1="1103.3" x2="674.03" y2="1084.46" stroke="#7b57c9" stroke-width="3.9"/><polygon points="681.32,1081.18 676.45,1091.05 670.7,1078.29" fill="#7b57c9"/>
<line x1="632.2" y1="1103.3" x2="677.52" y2="1137.67" stroke="#7b57c9" stroke-width="3.9"/><polygon points="683.89,1142.51 672.89,1142.95 681.35,1131.79" fill="#7b57c9"/>
<circle cx="522.2" cy="1072.3" r="22.5" fill="none" stroke="#000" stroke-width="2.6"/>
<circle cx="522.2" cy="1155.2" r="22.5" fill="none" stroke="#000" stroke-width="2.6"/>
<circle cx="609" cy="1103.3" r="22.3" fill="none" stroke="#7b57c9" stroke-width="2.4"/>
<circle cx="700.5" cy="1072.3" r="22.5" fill="none" stroke="#000" stroke-width="2.6"/>
<circle cx="700.5" cy="1155.2" r="22.5" fill="none" stroke="#000" stroke-width="2.6"/>
<text transform="translate(466.1 1073.7) scale(1.045 1)" font-size="16.2" text-anchor="start" fill="#000" stroke="#000" stroke-width="0.3" stroke-linejoin="round">22</text>
<text transform="translate(466.68 1166) scale(0.939 1)" font-size="16.2" text-anchor="start" fill="#000" stroke="#000" stroke-width="0.3" stroke-linejoin="round">31</text>
<text transform="translate(599.05 1073.7) scale(0.99 1)" font-size="16.2" text-anchor="start" fill="#7b57c9" stroke="#7b57c9" stroke-width="0.3" stroke-linejoin="round">32</text>
<text transform="translate(735.43 1073.7) scale(1.013 1)" font-size="16.2" text-anchor="start" fill="#000" stroke="#000" stroke-width="0.3" stroke-linejoin="round">33</text>
<text transform="translate(735.43 1165.9) scale(1.02 1)" font-size="16.2" text-anchor="start" fill="#000" stroke="#000" stroke-width="0.3" stroke-linejoin="round">42</text>
</g>
<g id="panel-c">
<text transform="translate(801.33 589.5) scale(1.006 1)" font-size="33" text-anchor="start" fill="#000" stroke="#000" stroke-width="0.4" stroke-linejoin="round">(c)</text>
<rect x="1165.4" y="585.4" width="53.3" height="8.5" fill="#fcc794"/><rect x="1165.4" y="610.2" width="53.3" height="8.5" fill="#7f2704"/><text transform="translate(1224.28 598.1) scale(1 1.035)" font-size="19.1" text-anchor="start" fill="#000" stroke="#000" stroke-width="0.4" stroke-linejoin="round">Potential second-order dependencies</text><text transform="translate(1225 621.6) scale(1 1.035)" font-size="19.08" text-anchor="start" fill="#000" stroke="#000" stroke-width="0.4" stroke-linejoin="round">Significant second-order dependencies</text>
<path d="M886.87 1289.99H893.75V1293.3H886.87zM948.82 1286.69H955.71V1293.3H948.82zM1010.78 1286.69H1017.66V1289.99H1010.78zM893.75 1283.38H900.64V1286.69H893.75zM955.71 1280.08H962.59V1286.69H955.71zM1017.66 1280.08H1024.55V1283.38H1017.66zM900.64 1276.77H907.52V1280.08H900.64zM962.59 1273.47H969.48V1280.08H962.59zM1024.55 1273.47H1031.43V1276.77H1024.55zM907.52 1270.16H914.4V1273.47H907.52zM969.48 1266.86H976.36V1273.47H969.48zM1031.43 1266.86H1038.32V1270.16H1031.43zM914.4 1263.56H921.29V1266.86H914.4zM976.36 1260.25H983.24V1266.86H976.36zM1038.32 1260.25H1045.2V1263.56H1038.32zM921.29 1256.94H928.17V1260.25H921.29zM983.24 1253.64H990.13V1260.25H983.24zM1045.2 1253.64H1052.08V1256.94H1045.2zM928.17 1250.34H935.06V1253.64H928.17zM990.13 1247.03H997.01V1253.64H990.13zM1052.08 1247.03H1058.97V1250.34H1052.08zM935.06 1243.72H941.94V1247.03H935.06zM997.01 1240.42H1003.9V1247.03H997.01zM1058.97 1240.42H1065.85V1243.72H1058.97zM873.1 1237.12H879.98V1240.42H873.1zM1003.9 1233.81H1010.78V1240.42H1003.9zM1065.85 1233.81H1072.74V1237.12H1065.85zM879.98 1230.5H886.87V1233.81H879.98zM941.94 1227.2H948.82V1233.81H941.94zM1072.74 1227.2H1079.62V1230.5H1072.74zM955.71 1223.89H962.59V1227.2H955.71zM1017.66 1220.59H1024.55V1227.2H1017.66zM1079.62 1220.59H1086.5V1223.89H1079.62zM962.59 1217.28H969.48V1220.59H962.59zM1024.55 1213.98H1031.43V1220.59H1024.55zM1086.5 1213.98H1093.39V1217.28H1086.5zM969.48 1210.67H976.36V1213.98H969.48zM1031.43 1207.37H1038.32V1213.98H1031.43zM1093.39 1207.37H1100.27V1210.67H1093.39zM976.36 1204.07H983.24V1207.37H976.36zM1038.32 1200.76H1045.2V1207.37H1038.32zM1100.27 1200.76H1107.16V1204.07H1100.27zM983.24 1197.45H990.13V1200.76H983.24zM1045.2 1194.15H1052.08V1200.76H1045.2zM1107.16 1194.15H1114.04V1197.45H1107.16zM990.13 1190.85H997.01V1194.15H990.13zM1052.08 1190.85H1058.97V1194.15H1052.08zM997.01 1184.23H1003.9V1187.54H997.01zM1058.97 1180.93H1065.85V1187.54H1058.97zM1120.92 1180.93H1127.81V1184.23H1120.92zM1003.9 1177.62H1010.78V1180.93H1003.9zM1065.85 1174.32H1072.74V1180.93H1065.85zM1127.81 1174.32H1134.69V1177.62H1127.81zM941.94 1171.01H948.82V1174.32H941.94zM1072.74 1167.71H1079.62V1174.32H1072.74zM1134.69 1167.71H1141.58V1171.01H1134.69zM948.82 1164.4H955.71V1167.71H948.82zM1010.78 1161.1H1017.66V1167.71H1010.78zM1141.58 1161.1H1148.46V1164.4H1141.58zM1024.55 1157.8H1031.43V1161.1H1024.55zM1086.5 1154.49H1093.39V1161.1H1086.5zM1148.46 1154.49H1155.34V1157.8H1148.46zM1031.43 1151.18H1038.32V1154.49H1031.43zM1093.39 1147.88H1100.27V1154.49H1093.39zM1155.34 1147.88H1162.23V1151.18H1155.34zM1038.32 1144.58H1045.2V1147.88H1038.32zM1100.27 1141.27H1107.16V1147.88H1100.27zM1162.23 1141.27H1169.11V1144.58H1162.23zM1045.2 1137.96H1052.08V1141.27H1045.2zM1107.16 1134.66H1114.04V1141.27H1107.16zM1169.11 1134.66H1176V1137.96H1169.11zM1114.04 1128.05H1120.92V1131.36H1114.04zM1176 1128.05H1182.88V1131.36H1176zM1058.97 1124.74H1065.85V1128.05H1058.97zM1120.92 1121.44H1127.81V1128.05H1120.92zM1182.88 1121.44H1189.76V1124.74H1182.88zM1065.85 1118.13H1072.74V1121.44H1065.85zM1127.81 1114.83H1134.69V1121.44H1127.81zM1189.76 1114.83H1196.65V1118.13H1189.76zM1072.74 1111.52H1079.62V1114.83H1072.74zM1134.69 1108.22H1141.58V1114.83H1134.69zM1196.65 1108.22H1203.53V1111.52H1196.65zM1010.78 1104.91H1017.66V1108.22H1010.78zM1141.58 1101.61H1148.46V1108.22H1141.58zM1203.53 1101.61H1210.42V1104.91H1203.53zM1017.66 1098.3H1024.55V1101.61H1017.66zM1079.62 1095H1086.5V1101.61H1079.62zM1210.42 1095H1217.3V1098.3H1210.42zM1093.39 1091.69H1100.27V1095H1093.39zM1155.34 1088.39H1162.23V1095H1155.34zM1217.3 1088.39H1224.18V1091.69H1217.3zM1100.27 1085.09H1107.16V1088.39H1100.27zM1162.23 1081.78H1169.11V1088.39H1162.23zM1224.18 1081.78H1231.07V1085.09H1224.18zM1107.16 1078.47H1114.04V1081.78H1107.16zM1169.11 1075.17H1176V1081.78H1169.11zM1231.07 1075.17H1237.95V1078.47H1231.07zM1114.04 1071.87H1120.92V1075.17H1114.04zM1176 1068.56H1182.88V1075.17H1176zM1237.95 1068.56H1244.84V1071.87H1237.95zM1120.92 1065.25H1127.81V1068.56H1120.92zM1182.88 1061.95H1189.76V1068.56H1182.88zM1244.84 1061.95H1251.72V1065.25H1244.84zM1127.81 1058.64H1134.69V1061.95H1127.81zM1189.76 1055.34H1196.65V1061.95H1189.76zM1251.72 1055.34H1258.6V1058.64H1251.72zM1134.69 1052.03H1141.58V1055.34H1134.69zM1196.65 1048.73H1203.53V1055.34H1196.65zM1258.6 1048.73H1265.49V1052.03H1258.6zM1141.58 1045.42H1148.46V1048.73H1141.58zM1203.53 1042.12H1210.42V1048.73H1203.53zM1265.49 1042.12H1272.37V1045.42H1265.49zM1079.62 1038.82H1086.5V1042.12H1079.62zM1210.42 1035.51H1217.3V1042.12H1210.42zM1272.37 1035.51H1279.26V1038.82H1272.37zM1086.5 1032.2H1093.39V1035.51H1086.5zM1148.46 1028.9H1155.34V1035.51H1148.46zM1279.26 1028.9H1286.14V1032.2H1279.26zM1162.23 1025.59H1169.11V1028.9H1162.23zM1224.18 1022.29H1231.07V1028.9H1224.18zM1286.14 1022.29H1293.02V1025.59H1286.14zM1169.11 1018.98H1176V1022.29H1169.11zM1231.07 1018.98H1237.95V1022.29H1231.07zM1176 1012.38H1182.88V1015.68H1176zM1237.95 1009.07H1244.84V1015.68H1237.95zM1299.91 1009.07H1306.79V1012.38H1299.91zM1182.88 1005.76H1189.76V1009.07H1182.88zM1244.84 1002.46H1251.72V1009.07H1244.84zM1306.79 1002.46H1313.68V1005.76H1306.79zM1189.76 999.15H1196.65V1002.46H1189.76zM1251.72 995.85H1258.6V1002.46H1251.72zM1313.68 995.85H1320.56V999.15H1313.68zM1196.65 992.54H1203.53V995.85H1196.65zM1258.6 989.24H1265.49V995.85H1258.6zM1320.56 989.24H1327.44V992.54H1320.56zM1203.53 985.93H1210.42V989.24H1203.53zM1265.49 982.63H1272.37V989.24H1265.49zM1327.44 982.63H1334.33V985.93H1327.44zM1210.42 979.32H1217.3V982.63H1210.42zM1272.37 976.02H1279.26V982.63H1272.37zM1334.33 976.02H1341.21V979.32H1334.33zM1148.46 972.71H1155.34V976.02H1148.46zM1279.26 969.41H1286.14V976.02H1279.26zM1341.21 969.41H1348.1V972.71H1341.21zM1155.34 966.11H1162.23V969.41H1155.34zM1217.3 962.8H1224.18V969.41H1217.3zM1348.1 962.8H1354.98V966.11H1348.1zM1293.02 956.19H1299.91V959.49H1293.02zM1354.98 956.19H1361.86V959.49H1354.98zM1237.95 952.88H1244.84V956.19H1237.95zM1299.91 949.58H1306.79V956.19H1299.91zM1361.86 949.58H1368.75V952.88H1361.86zM1244.84 946.27H1251.72V949.58H1244.84zM1306.79 942.97H1313.68V949.58H1306.79zM1368.75 942.97H1375.63V946.27H1368.75zM1251.72 939.66H1258.6V942.97H1251.72zM1313.68 936.36H1320.56V942.97H1313.68zM1375.63 936.36H1382.52V939.66H1375.63zM1258.6 933.05H1265.49V936.36H1258.6zM1320.56 929.75H1327.44V936.36H1320.56zM1382.52 929.75H1389.4V933.05H1382.52zM1265.49 926.44H1272.37V929.75H1265.49zM1327.44 923.14H1334.33V929.75H1327.44zM1389.4 923.14H1396.28V926.44H1389.4zM1272.37 919.83H1279.26V923.14H1272.37zM1334.33 916.53H1341.21V923.14H1334.33zM1396.28 916.53H1403.17V919.83H1396.28zM1279.26 913.22H1286.14V916.53H1279.26zM1341.21 909.92H1348.1V916.53H1341.21zM1403.17 909.92H1410.05V913.22H1403.17zM1217.3 906.62H1224.18V909.92H1217.3zM1348.1 903.31H1354.98V909.92H1348.1zM1410.05 903.31H1416.94V906.62H1410.05zM1224.18 900H1231.07V903.31H1224.18zM1286.14 896.7H1293.02V903.31H1286.14zM1416.94 896.7H1423.82V900H1416.94zM1299.91 893.39H1306.79V896.7H1299.91zM1361.86 890.09H1368.75V896.7H1361.86zM1423.82 890.09H1430.7V893.39H1423.82zM1306.79 886.78H1313.68V890.09H1306.79zM1368.75 883.48H1375.63V890.09H1368.75zM1430.7 883.48H1437.59V886.78H1430.7zM1313.68 880.17H1320.56V883.48H1313.68zM1375.63 876.87H1382.52V883.48H1375.63zM1437.59 876.87H1444.47V880.17H1437.59zM1320.56 873.56H1327.44V876.87H1320.56zM1382.52 870.26H1389.4V876.87H1382.52zM1444.47 870.26H1451.36V873.56H1444.47zM1327.44 866.95H1334.33V870.26H1327.44zM1389.4 863.65H1396.28V870.26H1389.4zM1451.36 863.65H1458.24V866.95H1451.36zM1334.33 860.34H1341.21V863.65H1334.33zM1396.28 857.04H1403.17V863.65H1396.28zM1458.24 857.04H1465.12V860.34H1458.24zM1341.21 853.73H1348.1V857.04H1341.21zM1403.17 850.43H1410.05V857.04H1403.17zM1465.12 850.43H1472.01V853.73H1465.12zM1348.1 847.12H1354.98V850.43H1348.1zM1410.05 847.12H1416.94V850.43H1410.05zM1286.14 840.51H1293.02V843.82H1286.14zM1416.94 837.21H1423.82V843.82H1416.94zM1478.89 837.21H1485.78V840.51H1478.89zM1293.02 833.9H1299.91V837.21H1293.02zM1354.98 830.6H1361.86V837.21H1354.98zM1485.78 830.6H1492.66V833.9H1485.78zM1368.75 827.29H1375.63V830.6H1368.75zM1430.7 823.99H1437.59V830.6H1430.7zM1492.66 823.99H1499.54V827.29H1492.66zM1375.63 820.68H1382.52V823.99H1375.63zM1437.59 817.38H1444.47V823.99H1437.59zM1499.54 817.38H1506.43V820.68H1499.54zM1382.52 814.07H1389.4V817.38H1382.52zM1444.47 810.77H1451.36V817.38H1444.47zM1506.43 810.77H1513.31V814.07H1506.43zM1389.4 807.46H1396.28V810.77H1389.4zM1451.36 804.16H1458.24V810.77H1451.36zM1513.31 804.16H1520.2V807.46H1513.31zM1396.28 800.85H1403.17V804.16H1396.28zM1458.24 797.55H1465.12V804.16H1458.24zM1520.2 797.55H1527.08V800.85H1520.2zM1403.17 794.24H1410.05V797.55H1403.17zM1465.12 790.94H1472.01V797.55H1465.12zM1527.08 790.94H1533.96V794.24H1527.08zM1472.01 784.33H1478.89V787.63H1472.01zM1533.96 784.33H1540.85V787.63H1533.96zM1416.94 781.02H1423.82V784.33H1416.94zM1478.89 777.72H1485.78V784.33H1478.89zM1540.85 777.72H1547.73V781.02H1540.85zM1354.98 774.41H1361.86V777.72H1354.98zM1485.78 771.11H1492.66V777.72H1485.78zM1547.73 771.11H1554.62V774.41H1547.73zM1361.86 767.8H1368.75V771.11H1361.86zM1423.82 764.5H1430.7V771.11H1423.82zM1554.62 764.5H1561.5V767.8H1554.62zM1437.59 761.19H1444.47V764.5H1437.59zM1499.54 757.89H1506.43V764.5H1499.54zM873.1 757.89H879.98V761.19H873.1zM1444.47 754.58H1451.36V757.89H1444.47zM1506.43 751.28H1513.31V757.89H1506.43zM879.98 751.28H886.87V754.58H879.98zM1451.36 747.97H1458.24V751.28H1451.36zM1513.31 744.67H1520.2V751.28H1513.31zM886.87 744.67H893.75V747.97H886.87zM1458.24 741.36H1465.12V744.67H1458.24zM1520.2 738.06H1527.08V744.67H1520.2zM893.75 738.06H900.64V741.36H893.75zM1465.12 734.75H1472.01V738.06H1465.12zM1527.08 731.45H1533.96V738.06H1527.08zM900.64 731.45H907.52V734.75H900.64zM1472.01 728.14H1478.89V731.45H1472.01zM1533.96 724.84H1540.85V731.45H1533.96zM907.52 724.84H914.4V728.14H907.52zM1478.89 721.53H1485.78V724.84H1478.89zM1540.85 718.23H1547.73V724.84H1540.85zM914.4 718.23H921.29V721.53H914.4zM1485.78 714.92H1492.66V718.23H1485.78zM1547.73 711.62H1554.62V718.23H1547.73zM921.29 711.62H928.17V714.92H921.29zM1423.82 708.31H1430.7V711.62H1423.82zM1554.62 705.01H1561.5V711.62H1554.62zM928.17 705.01H935.06V708.31H928.17zM1430.7 701.7H1437.59V705.01H1430.7zM1492.66 698.4H1499.54V705.01H1492.66zM935.06 698.4H941.94V701.7H935.06zM879.98 691.79H886.87V698.4H879.98zM941.94 695.09H948.82V698.4H941.94zM1506.43 691.79H1513.31V695.09H1506.43zM886.87 685.18H893.75V691.79H886.87zM948.82 688.48H955.71V691.79H948.82zM1513.31 685.18H1520.2V688.48H1513.31zM893.75 678.57H900.64V685.18H893.75zM955.71 681.87H962.59V685.18H955.71zM1520.2 678.57H1527.08V681.87H1520.2zM900.64 671.96H907.52V678.57H900.64zM962.59 675.26H969.48V678.57H962.59zM1527.08 671.96H1533.96V675.26H1527.08zM907.52 665.35H914.4V671.96H907.52zM969.48 668.65H976.36V671.96H969.48zM1533.96 665.35H1540.85V668.65H1533.96zM914.4 658.74H921.29V665.35H914.4zM976.36 662.04H983.24V665.35H976.36zM1540.85 658.74H1547.73V662.04H1540.85zM921.29 652.13H928.17V658.74H921.29zM983.24 655.43H990.13V658.74H983.24zM1547.73 652.13H1554.62V655.43H1547.73zM928.17 645.52H935.06V652.13H928.17zM990.13 648.82H997.01V652.13H990.13zM1554.62 645.52H1561.5V648.82H1554.62zM935.06 638.91H941.94V645.52H935.06zM997.01 642.21H1003.9V645.52H997.01zM1492.66 638.91H1499.54V642.21H1492.66zM873.1 632.3H879.98V638.91H873.1zM1003.9 635.6H1010.78V638.91H1003.9zM1499.54 632.3H1506.43V635.6H1499.54z" fill="#fcc794"/><path d="M1052.08 1187.54H1058.97V1190.85H1052.08zM1114.04 1187.54H1120.92V1190.85H1114.04zM1052.08 1131.36H1058.97V1134.66H1052.08zM1114.04 1131.36H1120.92V1134.66H1114.04zM1231.07 1015.68H1237.95V1018.98H1231.07zM1293.02 1015.68H1299.91V1018.98H1293.02zM1231.07 959.49H1237.95V962.8H1231.07zM1293.02 959.49H1299.91V962.8H1293.02zM1410.05 843.82H1416.94V847.12H1410.05zM1472.01 843.82H1478.89V847.12H1472.01zM1410.05 787.63H1416.94V790.94H1410.05zM1472.01 787.63H1478.89V790.94H1472.01z" fill="#7f2704"/>
<rect x="873.4" y="632" width="688.1" height="660.8" fill="none" stroke="#000" stroke-width="2.5"/>
<text transform="translate(833.5 1149.76) rotate(-90) scale(1 1.09)" font-size="25.78" text-anchor="start" fill="#000" stroke="#000" stroke-width="0.4" stroke-linejoin="round">Series of the first two components</text><text transform="translate(864.6 1125.74) rotate(-90) scale(1 1.04)" font-size="25.74" text-anchor="start" fill="#000" stroke="#000" stroke-width="0.4" stroke-linejoin="round">in second-order dependencies</text>
<text transform="translate(941.31 1330.3) scale(1 1.035)" font-size="26.43" text-anchor="start" fill="#000" stroke="#000" stroke-width="0.4" stroke-linejoin="round">Target components in second-order dependencies</text>
<path d="M1403.75 781.8H1481.9V860.07H1403.75z" fill="none" stroke="#b94a55" stroke-width="1.5" stroke-dasharray="8.7 8.7"/>
<path d="M1227.05 952.9H1305.1V1030.9H1227.05z" fill="none" stroke="#b94a55" stroke-width="1.5" stroke-dasharray="8.7 8.7"/>
<path d="M1045.65 1120.9H1123.9V1199.1H1045.65z" fill="none" stroke="#b94a55" stroke-width="1.5" stroke-dasharray="8.7 8.7"/>
<line x1="1369" y1="803.8" x2="1321" y2="803.8" stroke="#b94a55" stroke-width="3.6"/><path d="M1308.4 803.8L1327 788.8Q1320.5 798.55 1322 803.8Q1320.5 809.05 1327 818.8z" fill="#b94a55"/>
<line x1="1199.3" y1="948.6" x2="1150.8" y2="948.6" stroke="#b94a55" stroke-width="3.6"/><path d="M1138.2 948.6L1156.8 933.6Q1150.3 943.35 1151.8 948.6Q1150.3 953.85 1156.8 963.6z" fill="#b94a55"/>
<line x1="1153.5" y1="1181" x2="1201.75" y2="1181" stroke="#b94a55" stroke-width="3.6"/><path d="M1214.35 1181L1195.75 1166Q1202.25 1175.75 1200.75 1181Q1202.25 1186.25 1195.75 1196z" fill="#b94a55"/>
<line x1="1165.8" y1="789.62" x2="1220.01" y2="726.12" stroke="#efd592" stroke-width="1.8"/><polygon points="1225.21,720.04 1222.73,729.1 1216.65,723.9" fill="#efd592"/><line x1="1163.73" y1="735.45" x2="1218.36" y2="793.21" stroke="#d379a6" stroke-width="1.8"/><polygon points="1223.86,799.02 1215.11,795.59 1220.93,790.09" fill="#d379a6"/><line x1="1062.6" y1="718.5" x2="1107.37" y2="732.74" stroke="#d379a6" stroke-width="3.9"/><polygon points="1115,735.17 1104.71,739.45 1109.08,725.73" fill="#d379a6"/><line x1="1062.6" y1="799.5" x2="1107.16" y2="793.26" stroke="#efd592" stroke-width="3.9"/><polygon points="1115.08,792.14 1107.66,800.45 1105.66,786.19" fill="#efd592"/><line x1="1163.18" y1="734.88" x2="1209.4" y2="715.69" stroke="#d379a6" stroke-width="5.8"/><polygon points="1216.32,712.82 1211.77,722.72 1206.1,709.05" fill="#d379a6"/><line x1="1163.2" y1="792.57" x2="1208.52" y2="813.93" stroke="#efd592" stroke-width="5.8"/><polygon points="1215.3,817.13 1204.91,820.41 1211.22,807.02" fill="#efd592"/><path d="M1166.05 823.55H1110.55V705.55H1166.05z" fill="none" stroke="#7b57c9" stroke-width="3.3" stroke-dasharray="9 9"/><circle cx="1043.3" cy="701" r="24.75" fill="none" stroke="#d379a6" stroke-width="3.7"/><circle cx="1043.3" cy="817.3" r="24.75" fill="none" stroke="#efd592" stroke-width="3.7"/><circle cx="1138.9" cy="735.3" r="24.45" fill="none" stroke="#d379a6" stroke-width="3.7"/><circle cx="1138.9" cy="792.45" r="24.45" fill="none" stroke="#efd592" stroke-width="3.7"/><circle cx="1239.4" cy="701" r="24.75" fill="none" stroke="#000" stroke-width="3.7"/><circle cx="1239.4" cy="817.3" r="24.75" fill="none" stroke="#000" stroke-width="3.7"/><text transform="translate(992.85 703.75)" font-size="16" text-anchor="middle" fill="#000" stroke="#000" stroke-width="0.3" stroke-linejoin="round">67</text><text transform="translate(993 806.45)" font-size="16" text-anchor="middle" fill="#000" stroke="#000" stroke-width="0.3" stroke-linejoin="round">76</text><text transform="translate(1290.1 703.75)" font-size="16" text-anchor="middle" fill="#000" stroke="#000" stroke-width="0.3" stroke-linejoin="round">78</text><text transform="translate(1290 806.45)" font-size="16" text-anchor="middle" fill="#000" stroke="#000" stroke-width="0.3" stroke-linejoin="round">87</text><text transform="translate(1136.2 696.4)" font-size="16" text-anchor="middle" fill="#000" stroke="#000" stroke-width="0.3" stroke-linejoin="round"><tspan fill="#7b57c9" stroke="#7b57c9">77</tspan>|67</text><text transform="translate(1136.2 850.2)" font-size="16" text-anchor="middle" fill="#000" stroke="#000" stroke-width="0.3" stroke-linejoin="round"><tspan fill="#7b57c9" stroke="#7b57c9">77</tspan>|76</text>
<line x1="1059" y1="971.72" x2="1108.35" y2="914.19" stroke="#efd592" stroke-width="1.66"/><polygon points="1113.11,908.64 1110.81,916.97 1105.23,912.18" fill="#efd592"/><line x1="1057.03" y1="922.45" x2="1106.53" y2="974.8" stroke="#d379a6" stroke-width="1.66"/><polygon points="1111.56,980.12 1103.52,976.96 1108.86,971.91" fill="#d379a6"/><line x1="964.8" y1="908.1" x2="1006.19" y2="920.44" stroke="#d379a6" stroke-width="3.59"/><polygon points="1013.21,922.53 1003.82,926.64 1007.61,913.95" fill="#d379a6"/><line x1="964.8" y1="980.5" x2="1006.03" y2="974.89" stroke="#efd592" stroke-width="3.59"/><polygon points="1013.28,973.9 1006.42,981.52 1004.64,968.39" fill="#efd592"/><line x1="1056.48" y1="922.29" x2="1098.31" y2="904.49" stroke="#d379a6" stroke-width="5.34"/><polygon points="1104.62,901.81 1100.51,910.95 1095.18,898.43" fill="#d379a6"/><line x1="1056.5" y1="974.17" x2="1097.41" y2="993.68" stroke="#efd592" stroke-width="5.34"/><polygon points="1103.6,996.63 1094.03,999.61 1099.89,987.32" fill="#efd592"/><path d="M1059.7 1002H1009.7V895.4H1059.7z" fill="none" stroke="#7b57c9" stroke-width="3" stroke-dasharray="8 8.23"/><circle cx="947.6" cy="891.4" r="22.65" fill="none" stroke="#d379a6" stroke-width="3.4"/><circle cx="947.6" cy="996.8" r="22.65" fill="none" stroke="#efd592" stroke-width="3.4"/><circle cx="1034.3" cy="922.5" r="22.35" fill="none" stroke="#d379a6" stroke-width="3.4"/><circle cx="1034.3" cy="974.6" r="22.35" fill="none" stroke="#efd592" stroke-width="3.4"/><circle cx="1125.8" cy="891.4" r="22.65" fill="none" stroke="#000" stroke-width="3.4"/><circle cx="1125.8" cy="996.8" r="22.65" fill="none" stroke="#000" stroke-width="3.4"/><text transform="translate(901.7 896.3)" font-size="16" text-anchor="middle" fill="#000" stroke="#000" stroke-width="0.3" stroke-linejoin="round">41</text><text transform="translate(902.5 989)" font-size="16" text-anchor="middle" fill="#000" stroke="#000" stroke-width="0.3" stroke-linejoin="round">50</text><text transform="translate(1172.5 896.3)" font-size="16" text-anchor="middle" fill="#000" stroke="#000" stroke-width="0.3" stroke-linejoin="round">52</text><text transform="translate(1171.9 989)" font-size="16" text-anchor="middle" fill="#000" stroke="#000" stroke-width="0.3" stroke-linejoin="round">61</text><text transform="translate(1033.2 887.05)" font-size="16" text-anchor="middle" fill="#000" stroke="#000" stroke-width="0.3" stroke-linejoin="round"><tspan fill="#7b57c9" stroke="#7b57c9">51</tspan>|41</text><text transform="translate(1033.5 1025)" font-size="16" text-anchor="middle" fill="#000" stroke="#000" stroke-width="0.3" stroke-linejoin="round"><tspan fill="#7b57c9" stroke="#7b57c9">51</tspan>|50</text>
<line x1="1404.61" y1="1210.53" x2="1456.75" y2="1148.91" stroke="#efd592" stroke-width="1.76"/><polygon points="1461.8,1142.93 1459.42,1151.82 1453.43,1146.76" fill="#efd592"/><line x1="1402.34" y1="1158.83" x2="1454.63" y2="1215.28" stroke="#d379a6" stroke-width="1.76"/><polygon points="1459.95,1221.03 1451.41,1217.58 1457.17,1212.25" fill="#d379a6"/><line x1="1303.1" y1="1142.8" x2="1347.21" y2="1156.26" stroke="#d379a6" stroke-width="3.82"/><polygon points="1354.7,1158.54 1344.68,1162.86 1348.8,1149.36" fill="#d379a6"/><line x1="1303.1" y1="1220.5" x2="1347.03" y2="1214.2" stroke="#efd592" stroke-width="3.82"/><polygon points="1354.78,1213.09 1347.53,1221.25 1345.53,1207.29" fill="#efd592"/><line x1="1401.58" y1="1157.79" x2="1446.55" y2="1138.95" stroke="#d379a6" stroke-width="5.68"/><polygon points="1453.32,1136.11 1448.89,1145.83 1443.29,1132.45" fill="#d379a6"/><line x1="1401.6" y1="1213.47" x2="1445.47" y2="1234.28" stroke="#efd592" stroke-width="5.68"/><polygon points="1452.1,1237.43 1441.91,1240.62 1448.13,1227.52" fill="#efd592"/><path d="M1404.47 1243.47H1350.83V1129.03H1404.47z" fill="none" stroke="#7b57c9" stroke-width="3.25" stroke-dasharray="8.7 8.7"/><circle cx="1284.4" cy="1125.05" r="24.3" fill="none" stroke="#d379a6" stroke-width="3.6"/><circle cx="1284.4" cy="1238.3" r="24.3" fill="none" stroke="#efd592" stroke-width="3.6"/><circle cx="1377.4" cy="1158.4" r="24" fill="none" stroke="#d379a6" stroke-width="3.6"/><circle cx="1377.4" cy="1213.9" r="24" fill="none" stroke="#efd592" stroke-width="3.6"/><circle cx="1474.8" cy="1125.05" r="24.3" fill="none" stroke="#000" stroke-width="3.6"/><circle cx="1474.8" cy="1238.3" r="24.3" fill="none" stroke="#000" stroke-width="3.6"/><text transform="translate(1236.2 1144.5)" font-size="16" text-anchor="middle" fill="#000" stroke="#000" stroke-width="0.3" stroke-linejoin="round">15</text><text transform="translate(1236.2 1242.6)" font-size="16" text-anchor="middle" fill="#000" stroke="#000" stroke-width="0.3" stroke-linejoin="round">24</text><text transform="translate(1524.7 1144.5)" font-size="16" text-anchor="middle" fill="#000" stroke="#000" stroke-width="0.3" stroke-linejoin="round">26</text><text transform="translate(1524.7 1242.6)" font-size="16" text-anchor="middle" fill="#000" stroke="#000" stroke-width="0.3" stroke-linejoin="round">35</text><text transform="translate(1375.3 1121.9)" font-size="16" text-anchor="middle" fill="#000" stroke="#000" stroke-width="0.3" stroke-linejoin="round"><tspan fill="#7b57c9" stroke="#7b57c9">25</tspan>|15</text><text transform="translate(1372.5 1266.3)" font-size="13.7" text-anchor="middle" fill="#000" stroke="#000" stroke-width="0.3" stroke-linejoin="round">25|24</text>
</g>
</svg>
</body>
</html>
